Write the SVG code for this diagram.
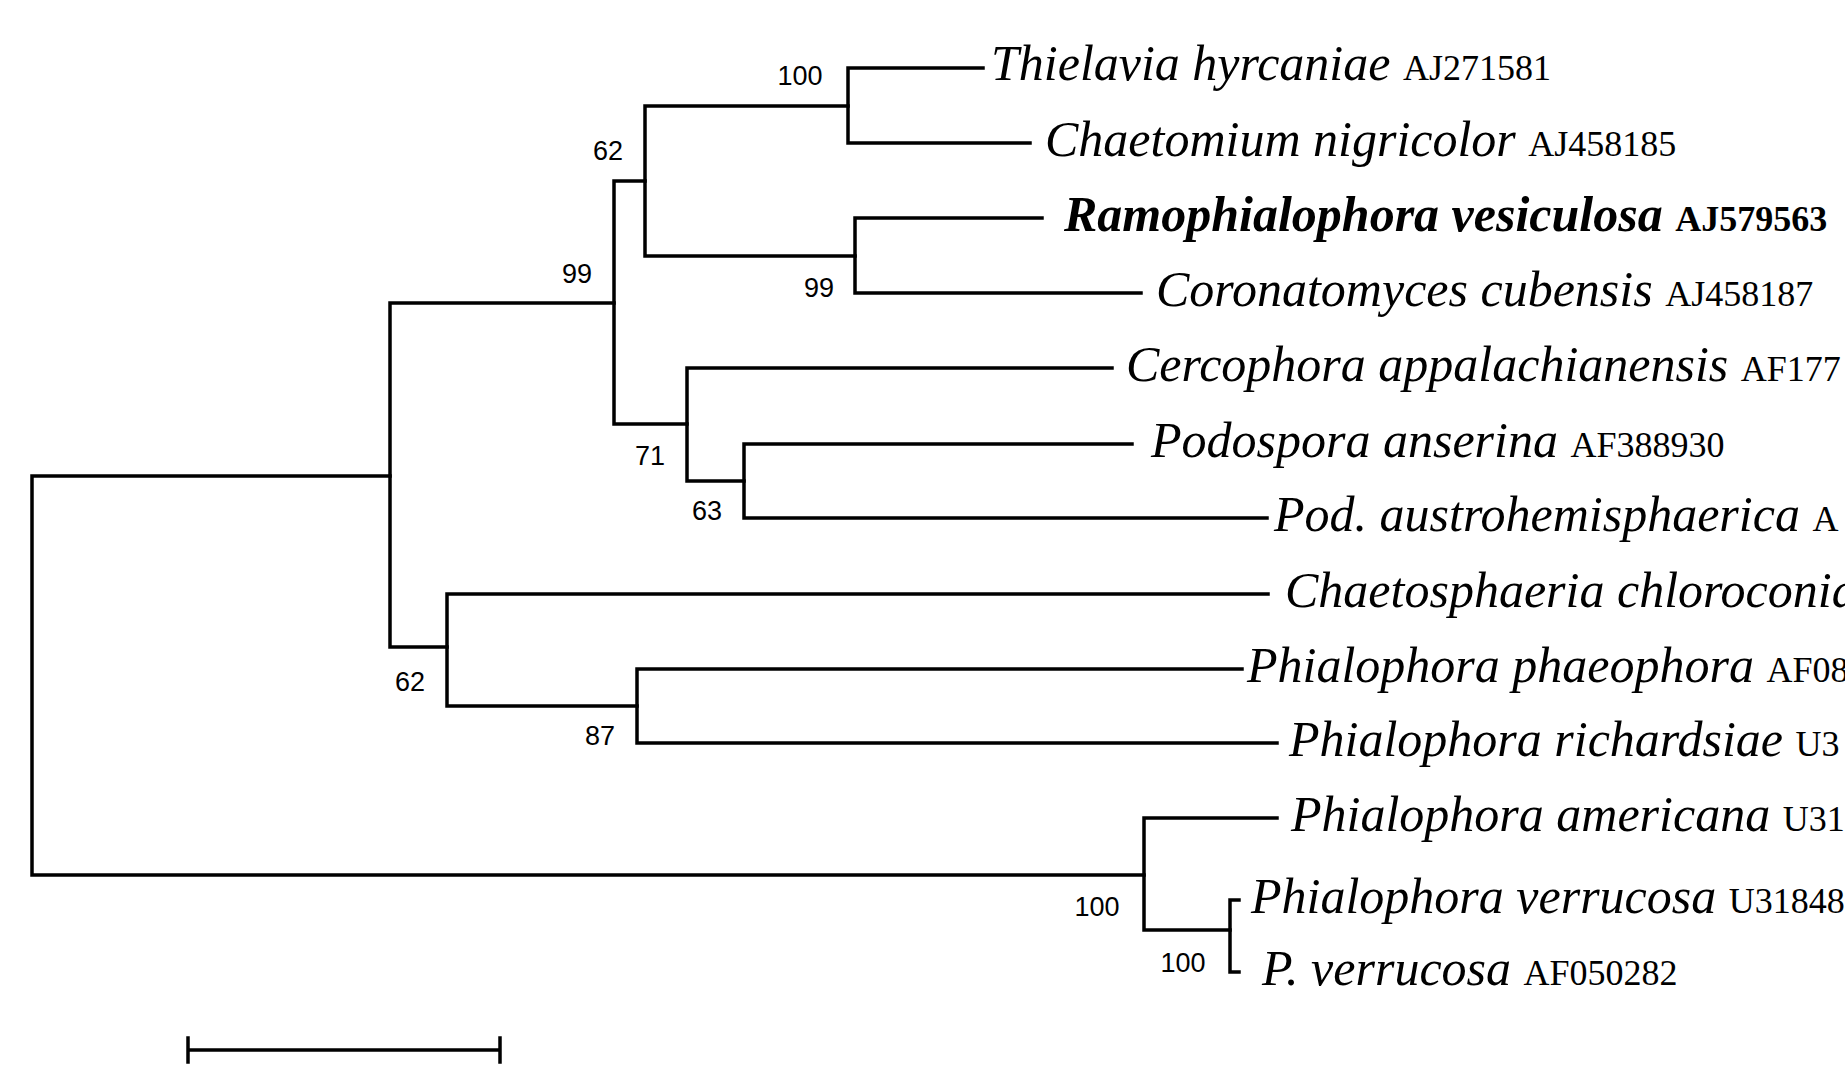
<svg xmlns="http://www.w3.org/2000/svg" width="1845" height="1068" viewBox="0 0 1845 1068">
<style>
.e{fill:none;stroke:#000;stroke-width:3.5;stroke-linecap:square}
.b{font-family:"Liberation Sans",Arial,sans-serif;font-size:27px;text-anchor:middle;fill:#000}
.t{font-family:"Liberation Serif","Times New Roman",serif;font-size:50px;font-style:italic;fill:#000}
.a{font-style:normal;font-size:36px}
.bd{font-weight:bold}
</style>
<rect width="1845" height="1068" fill="#fff"/>
<g id="connectors" class="e">
<path d="M983,68H848V143H1030"/>
<path d="M1042,218H855V293H1141"/>
<path d="M848,106H645V256H855"/>
<path d="M1112,368H687V481H744"/>
<path d="M1132,444H744V518H1267"/>
<path d="M645,181H614V424H687"/>
<path d="M614,303H390V647H447"/>
<path d="M1268,594H447V706H637"/>
<path d="M1242,669H637V743H1277"/>
<path d="M390,476H32V875H1144"/>
<path d="M1277,818H1144V930H1230"/>
<path d="M1239,900H1230V972H1239"/>
<path d="M188,1050H500M188,1038V1062M500,1038V1062"/>
</g>
<g id="bootstrap">
<text class="b" x="800" y="85">100</text>
<text class="b" x="608" y="160">62</text>
<text class="b" x="577" y="283">99</text>
<text class="b" x="819" y="297">99</text>
<text class="b" x="650" y="465">71</text>
<text class="b" x="707" y="520">63</text>
<text class="b" x="410" y="691">62</text>
<text class="b" x="600" y="745">87</text>
<text class="b" x="1097" y="916">100</text>
<text class="b" x="1183" y="972">100</text>
</g>
<g id="taxa">
<text id="t1" class="t" x="991" y="80">Thielavia hyrcaniae <tspan class="a">AJ271581</tspan></text>
<text id="t2" class="t" x="1045" y="156">Chaetomium nigricolor <tspan class="a">AJ458185</tspan></text>
<text id="t3" class="t bd" x="1064" y="231">Ramophialophora vesiculosa <tspan class="a">AJ579563</tspan></text>
<text id="t4" class="t" x="1156" y="306">Coronatomyces cubensis <tspan class="a">AJ458187</tspan></text>
<text id="t5" class="t" x="1126" y="381">Cercophora appalachianensis <tspan class="a">AF177</tspan></text>
<text id="t6" class="t" x="1151" y="457">Podospora anserina <tspan class="a">AF388930</tspan></text>
<text id="t7" class="t" x="1274" y="531">Pod. austrohemisphaerica <tspan class="a">A</tspan></text>
<text id="t8" class="t" x="1285" y="607">Chaetosphaeria chloroconia</text>
<text id="t9" class="t" x="1247" y="682">Phialophora phaeophora <tspan class="a">AF08</tspan></text>
<text id="t10" class="t" x="1289" y="756">Phialophora richardsiae <tspan class="a">U3</tspan></text>
<text id="t11" class="t" x="1291" y="831">Phialophora americana <tspan class="a">U31</tspan></text>
<text id="t12" class="t" x="1251" y="913">Phialophora verrucosa <tspan class="a">U31848</tspan></text>
<text id="t13" class="t" x="1262" y="985">P. verrucosa <tspan class="a">AF050282</tspan></text>
</g>
</svg>
